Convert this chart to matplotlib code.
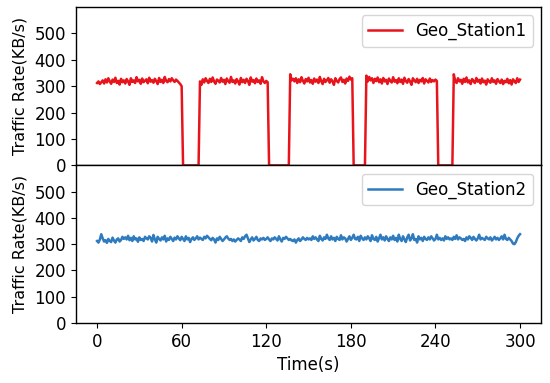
import numpy as np
import matplotlib
matplotlib.use("Agg")
import matplotlib.pyplot as plt

# Geo_Station1 traffic rate (KB/s), one sample per second, t = 0..300
rate1 = [
    312, 318, 308, 315, 322, 310, 326, 314, 330, 318,
    309, 325, 316, 332, 312, 320, 306, 328, 315, 322,
    310, 327, 318, 305, 330, 316, 322, 312, 334, 318,
    324, 309, 329, 315, 321, 326, 311, 332, 317, 323,
    313, 328, 319, 308, 331, 316, 324, 312, 335, 320,
    315, 327, 318, 330, 322, 316, 325, 320, 314, 308,
    300, 0, 0, 0, 0, 0, 0, 0, 0, 0,
    0, 0, 0, 318, 305, 326, 314, 330, 320, 312,
    328, 316, 333, 318, 309, 325, 321, 314, 331, 317,
    324, 308, 329, 319, 313, 335, 316, 322, 310, 327,
    318, 306, 331, 315, 324, 312, 328, 320, 305, 333,
    317, 323, 311, 329, 316, 322, 309, 334, 318, 312,
    320, 315, 0, 0, 0, 0, 0, 0, 0, 0,
    0, 0, 0, 0, 0, 0, 0, 345, 322, 328,
    318, 330, 312, 326, 315, 334, 320, 310, 327, 318,
    332, 314, 323, 309, 329, 317, 325, 312, 335, 319,
    308, 328, 316, 322, 331, 313, 326, 318, 305, 330,
    320, 314, 327, 333, 316, 324, 310, 329, 320, 336,
    325, 330, 0, 0, 0, 0, 0, 0, 0, 0,
    0, 340, 318, 335, 322, 330, 312, 328, 319, 333,
    315, 326, 310, 331, 318, 324, 308, 329, 320, 314,
    334, 317, 323, 311, 330, 316, 325, 309, 332, 319,
    313, 327, 318, 305, 330, 322, 315, 328, 312, 324,
    318, 331, 310, 326, 320, 314, 329, 316, 323, 318,
    325, 320, 0, 0, 0, 0, 0, 0, 0, 0,
    0, 0, 0, 345, 320, 312, 330, 318, 324, 309,
    328, 316, 333, 314, 322, 308, 327, 319, 312, 331,
    317, 324, 310, 329, 315, 321, 306, 326, 318, 313,
    330, 316, 322, 309, 327, 318, 312, 325, 308, 320,
    315, 328, 311, 323, 306, 326, 318, 312, 330, 316,
    325,
]

# Geo_Station2 traffic rate (KB/s), one sample per second, t = 0..300
rate2 = [
    312, 306, 318, 338, 322, 310, 315, 305, 320, 312,
    308, 325, 314, 306, 318, 322, 310, 316, 328, 320,
    326, 318, 332, 315, 324, 312, 330, 318, 322, 309,
    326, 316, 320, 312, 328, 322, 318, 330, 324, 310,
    335, 318, 306, 328, 320, 314, 326, 318, 332, 310,
    322, 316, 328, 320, 312, 325, 318, 330, 322, 315,
    328, 320, 312, 330, 318, 324, 308, 320, 326, 316,
    322, 330, 318, 325, 320, 316, 328, 322, 332, 326,
    320, 315, 324, 318, 306, 322, 316, 328, 320, 312,
    318, 325, 330, 322, 316, 320, 312, 318, 310, 316,
    322, 318, 312, 326, 320, 330, 336, 322, 308, 318,
    326, 314, 320, 328, 316, 312, 322, 318, 324, 316,
    320, 326, 318, 312, 322, 318, 326, 320, 314, 330,
    318, 310, 324, 320, 328, 322, 316, 320, 314, 312,
    318, 306, 316, 322, 312, 318, 326, 320, 316, 324,
    318, 322, 316, 330, 320, 326, 318, 312, 332, 320,
    314, 326, 320, 336, 322, 316, 330, 318, 324, 312,
    328, 320, 316, 334, 318, 326, 322, 310, 320, 330,
    316, 324, 336, 320, 318, 328, 312, 332, 322, 316,
    326, 318, 330, 322, 312, 334, 320, 316, 328, 310,
    322, 336, 318, 326, 314, 330, 320, 312, 326, 318,
    332, 316, 324, 310, 336, 320, 312, 330, 318, 308,
    326, 336, 314, 322, 338, 316, 320, 306, 330, 318,
    324, 312, 328, 320, 316, 326, 318, 330, 322, 314,
    320, 336, 318, 324, 316, 322, 314, 330, 320, 326,
    318, 322, 316, 328, 320, 334, 318, 326, 322, 316,
    320, 312, 326, 318, 330, 324, 316, 328, 320, 314,
    322, 336, 318, 324, 320, 316, 328, 322, 318, 326,
    314, 320, 328, 318, 324, 316, 322, 330, 318, 336,
    320, 316, 324, 318, 312, 302, 300, 308, 322, 332,
    338,
]

time1 = np.arange(len(rate1))
time2 = np.arange(len(rate2))

x_ticks = [0, 60, 120, 180, 240, 300]
y_ticks = [0, 100, 200, 300, 400, 500]
labels = ["Geo_Station1", "Geo_Station2"]
colors = ["#e8141c", "#2e7cbf"]

plt.rcParams["font.family"] = ["DejaVu Sans"]
plt.rcParams["font.size"] = 12
plt.rcParams["axes.linewidth"] = 1.0

fig = plt.figure(figsize=(5.5, 3.83), dpi=100)
L, R = 0.138, 0.984
top_t, mid, bot = 0.982, 0.568, 0.157
ax1 = fig.add_axes([L, mid, R - L, top_t - mid])
ax2 = fig.add_axes([L, bot, R - L, mid - bot], sharex=ax1)

ax1.plot(time1, rate1, color=colors[0], lw=1.8, label=labels[0])
ax2.plot(time2, rate2, color=colors[1], lw=1.8, label=labels[1])

for ax in (ax1, ax2):
    ax.set_ylim(0, 600)
    ax.set_yticks(y_ticks)
    ax.tick_params(labelsize=12)
    ax.set_ylabel("Traffic Rate(KB/s)", fontsize=11.5)
    ax.legend(loc="upper right", fontsize=12, handlelength=2.0)
    ax.yaxis.set_label_coords(-0.105, 0.5)

ax2.set_xticks(x_ticks)
ax2.set_xlabel("Time(s)", fontsize=12)
ax1.tick_params(axis="x", bottom=False, labelbottom=False)

fig.savefig("out.png", dpi=100)
